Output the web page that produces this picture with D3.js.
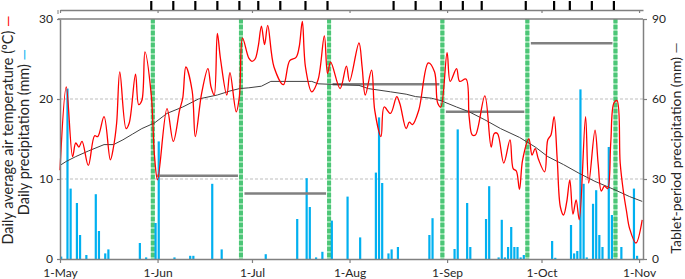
<!DOCTYPE html>
<html>
<head>
<meta charset="utf-8">
<script src="https://cdn.jsdelivr.net/npm/d3@7"></script>
<style>
  body { margin: 0; background: #fff; }
  svg { display: block; font-family: Lato, "Liberation Sans", sans-serif; }
</style>
</head>
<body>
<script>
// days counted from 1 May
const tempDays = [0,2,4,5,6,7,9,11,12,14,16,17,18,19,21,22,24,25,26,27,29,30,31,34,36,38,39,40,42,43,45,47,48,49,50,51,53,54,56,57,58,60,61,62,63,64,65,66,68,71,73,75,76,77,78,80,82,84,85,86,89,91,92,95,96,97,99,100,102,103,105,107,108,110,111,112,114,117,119,120,121,123,124,126,127,129,130,131,132,135,137,138,139,141,143,144,145,146,147,149,150,151,152,154,155,156,157,158,159,160,161,162,163,164,165,167,168,170,171,172,173,174,175,176,177,178,179,180,181,183,185];
const tempC = [11.1,21.5,12.8,14.5,14.0,14.7,11.7,15.4,15.3,17.8,12.4,14.0,17.0,23.4,16.3,17.0,23.1,19.3,19.8,25.9,20.5,13.0,9.9,18.8,14.7,18.6,20.1,24.0,21.0,15.3,20.7,23.8,21.5,20.5,28.2,25.0,20.5,23.3,18.4,20.3,27.6,25.1,24.7,25.0,26.6,29.1,26.8,29.2,24.0,21.8,24.8,25.2,26.5,29.7,24.0,20.9,22.4,27.9,23.2,24.6,21.3,24.1,22.2,27.0,24.0,20.5,23.6,18.6,15.3,19.0,18.2,20.3,19.4,16.3,17.1,16.8,18.6,24.5,23.4,19.5,19.0,25.8,22.2,23.8,22.2,22.5,17.8,15.5,15.5,20.4,14.0,15.7,15.7,12.0,14.9,11.3,11.0,8.7,12.4,15.0,13.0,13.8,12.5,10.9,14.9,15.5,17.8,12.4,6.5,5.5,7.1,9.9,5.6,7.4,4.9,17.8,9.5,16.1,11.9,8.5,9.1,8.8,14.5,19.5,19.8,12.0,8.5,6.0,3.8,2.0,4.9];

const climDays = [0,2,5,9,14,17,20,23,26,30,34,39,44,50,54,57,60,64,67,80,82,95,98,105,110,113,118,121,126,130,135,140,146,151,155,160,165,170,176,181,185];
const climC = [11.7,12.2,12.8,13.5,14.3,14.3,14.9,15.6,16.3,17.0,18.2,19.0,20.0,20.5,21.0,21.3,21.4,21.6,22.2,22.2,21.9,21.7,21.3,20.9,20.6,20.3,20.1,19.8,19.0,18.4,17.4,16.3,15.2,14.0,12.8,11.8,10.7,9.7,8.7,7.8,7.2];

const rainDays = [0,2,3,5,6,8,11,12,14,15,25,27,30,31,36,41,42,48,51,65,75,78,79,81,83,86,91,95,100,101,102,104,105,107,117,118,125,126,129,130,135,136,139,140,141,142,143,144,145,146,147,156,157,162,163,164,165,166,167,169,170,171,172,174,175,178,182,183];
const rainMm = [0.3,21.3,8.8,7.0,3.0,0.5,8.1,3.5,0.7,1.2,2.0,0.2,4.5,14.7,0.2,0.4,0.4,9.4,1.2,0.6,5.0,10.1,6.5,0.2,0.9,4.8,7.8,2.7,10.8,17.7,9.5,0.7,1.2,1.5,3.0,5.1,1.25,16.2,7.0,1.5,5.0,9.1,0.2,4.9,0.2,1.5,4.0,1.5,1.5,0.2,0.5,2.25,0.15,4.25,0.7,1.0,21.2,9.4,0.2,6.9,8.6,3.0,1.5,14.0,5.5,1.5,8.8,0.4];

// tablet changes and the precipitation of each tablet period
const changeDays = [29,57,85,121,148,176];
const periodMm = [31.2,24.6,65.5,55.2,80.9];

// sampling marks on the top strip
const sampleDays = [29,36,43,50,57,63,70,78,85,106,113,121,128,134,148,157,162,169,176];

const monthLabels = ["1-May","1-Jun","1-Jul","1-Aug","1-Sep","1-Oct","1-Nov"];

const W = 685, H = 279;
const margin = {top: 19, right: 42, bottom: 20, left: 60};
const start = new Date(Date.UTC(2013, 4, 1));
const day = d => d3.utcHour.offset(start, d * 24);

const svg = d3.select("body").append("svg")
  .attr("width", W).attr("height", H);

const x = d3.scaleUtc()
  .domain([start, day(185.27)])
  .range([margin.left, W - margin.right]);
const yL = d3.scaleLinear().domain([0, 30]).range([H - margin.bottom, margin.top]);
const yR = d3.scaleLinear().domain([0, 90]).range([H - margin.bottom, margin.top]);

const grey = "#808080";

// dashed grid at 10 and 20
svg.append("g").selectAll("line").data([10, 20]).enter().append("line")
  .attr("x1", x.range()[0]).attr("x2", x.range()[1])
  .attr("y1", d => yL(d)).attr("y2", d => yL(d))
  .attr("stroke", "#bdbdbd").attr("stroke-dasharray", "3,2");

// green tablet change lines
const greens = svg.append("g").selectAll("g").data(changeDays).enter().append("g");
greens.append("line")
  .attr("x1", d => x(day(d + 0.5))).attr("x2", d => x(day(d + 0.5)))
  .attr("y1", yL(30)).attr("y2", yL(0))
  .attr("stroke", "#9be3b1").attr("stroke-width", 4);
greens.append("line")
  .attr("x1", d => x(day(d + 0.5))).attr("x2", d => x(day(d + 0.5)))
  .attr("y1", yL(30)).attr("y2", yL(0))
  .attr("stroke", "#4cc677").attr("stroke-width", 4)
  .attr("stroke-dasharray", "4,2");

// daily precipitation bars
svg.append("g").selectAll("rect").data(rainDays).enter().append("rect")
  .attr("x", d => x(day(d + 0.4)) - 1.1)
  .attr("width", 2.2)
  .attr("y", (d, i) => yL(rainMm[i]))
  .attr("height", (d, i) => yL(0) - yL(rainMm[i]))
  .attr("fill", "#00b0f0");

// tablet-period precipitation
svg.append("g").selectAll("line").data(periodMm).enter().append("line")
  .attr("x1", (d, i) => x(day(changeDays[i] + 0.5)) + 3.5)
  .attr("x2", (d, i) => x(day(changeDays[i + 1] + 0.5)) - 3)
  .attr("y1", d => yR(d)).attr("y2", d => yR(d))
  .attr("stroke", grey).attr("stroke-width", 2.5);

// mean temperature line
svg.append("path")
  .datum(climDays.map((d, i) => [d, climC[i]]))
  .attr("fill", "none").attr("stroke", "#404040").attr("stroke-width", 1)
  .attr("d", d3.line().x(d => x(day(d[0]))).y(d => yL(d[1])));

// daily temperature
svg.append("path")
  .datum(tempDays.map((d, i) => [d, tempC[i]]))
  .attr("fill", "none").attr("stroke", "#ff0000").attr("stroke-width", 1.3)
  .attr("d", d3.line().curve(d3.curveCatmullRom.alpha(0.5))
    .x(d => x(day(d[0]))).y(d => yL(d[1])));

// axes
const months = d3.range(7).map(m => new Date(Date.UTC(2013, 4 + m, 1)));
const xAxis = svg.append("g")
  .attr("transform", "translate(0," + yL(0) + ")")
  .call(d3.axisBottom(x).tickValues(months)
    .tickFormat((d, i) => monthLabels[i]).tickSize(4).tickSizeOuter(0));
const leftAxis = svg.append("g")
  .attr("transform", "translate(" + margin.left + ",0)")
  .call(d3.axisLeft(yL).tickValues([0, 10, 20, 30]).tickSize(3).tickSizeOuter(0));
const rightAxis = svg.append("g")
  .attr("transform", "translate(" + (W - margin.right) + ",0)")
  .call(d3.axisRight(yR).tickValues([0, 30, 60, 90]).tickSize(4).tickSizeOuter(0));

// top frame
svg.append("line")
  .attr("x1", margin.left - 2).attr("x2", W - margin.right)
  .attr("y1", yL(30)).attr("y2", yL(30))
  .attr("stroke", grey).attr("stroke-width", 1.5);

// top strip with sampling marks
const topY = 10;
const topAxis = svg.append("g")
  .attr("transform", "translate(0," + topY + ")")
  .call(d3.axisBottom(x).tickValues(months).tickFormat("").tickSize(3).tickSizeOuter(0));
topAxis.append("line")
  .attr("x1", margin.left - 2).attr("x2", margin.left - 2)
  .attr("y1", 0).attr("y2", 4).attr("stroke", grey);
svg.append("g").selectAll("line").data(sampleDays).enter().append("line")
  .attr("x1", d => x(day(d))).attr("x2", d => x(day(d)))
  .attr("y1", 1).attr("y2", topY)
  .attr("stroke", "#000").attr("stroke-width", 2.2);

[xAxis, leftAxis, rightAxis, topAxis].forEach(g => {
  g.select(".domain").attr("stroke", grey).attr("stroke-width", 1.5);
  g.selectAll(".tick line").attr("stroke", grey).attr("stroke-width", 1.2);
  g.selectAll("text").attr("fill", "#262626").attr("font-size", 12)
    .attr("font-family", "Lato, 'Liberation Sans', sans-serif");
});
xAxis.selectAll("text").attr("dy", "0.9em");
leftAxis.selectAll("text").attr("x", -7);
rightAxis.selectAll("text").attr("x", 9);

// axis titles
function title(xpos, ypos, label, dashColor, size) {
  const t = svg.append("text")
    .attr("transform", "translate(" + xpos + "," + ypos + ") rotate(-90)")
    .attr("text-anchor", "middle")
    .attr("font-size", size).attr("fill", "#262626");
  t.append("tspan").text(label + " ");
  t.append("tspan").attr("fill", dashColor).text("\u2014");
}
title(13, 130, "Daily average air temperature (\u00baC)", "#ff0000", 14.5);
title(29, 132, "Daily precipitation (mm)", "#00b0f0", 14.5);
title(681, 148, "Tablet-period precipitation (mm)", "#404040", 14);
</script>
</body>
</html>
